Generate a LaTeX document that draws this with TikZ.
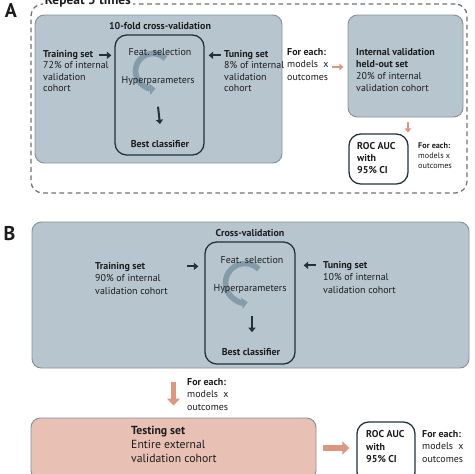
\documentclass[tikz,border=0pt]{standalone}
\usepackage{fontspec}
\setmainfont{PT Sans}
\usetikzlibrary{arrows.meta,fit}
\definecolor{boxgrey}{RGB}{183,198,206}
\definecolor{boxedge}{RGB}{135,145,150}
\definecolor{navy}{RGB}{33,50,62}
\definecolor{arcgrey}{RGB}{132,156,169}
\definecolor{salmon}{RGB}{223,150,128}
\definecolor{pinkfill}{RGB}{233,193,180}
\definecolor{dashgrey}{RGB}{110,115,120}
\definecolor{ink}{RGB}{28,28,30}
\begin{document}
\begin{tikzpicture}[x=0.03cm,y=-0.03cm,
  panel/.style={draw=boxedge,fill=boxgrey,rounded corners=8pt,line width=0.8pt,inner sep=0pt},
  inbox/.style={draw=navy,rounded corners=10pt,line width=1.1pt,inner sep=0pt},
  rocbox/.style={draw=navy,fill=white,rounded corners=10pt,line width=1.1pt,inner sep=0pt},
  txt/.style={anchor=north west,align=left,inner sep=0pt,text=ink,font=\fontsize{8.5}{9.7}\selectfont},
  txtb/.style={txt,font=\fontsize{8.5}{10.8}\selectfont},
  mid/.style={inner sep=0pt,text=ink,font=\fontsize{8.5}{9.7}\selectfont},
  darr/.style={draw=navy,line width=1.7pt,-{Triangle[length=3.8pt,width=6pt]}},
  parr/.style={draw=salmon,line width=1.8pt,-{Triangle[length=3.5pt,width=5.5pt]}},
  parrbig/.style={draw=salmon,line width=4pt,-{Triangle[length=6pt,width=11pt]}},
  cycle arrow/.style={draw=arcgrey,line width=4.8pt,-{Triangle[length=5pt,width=9.5pt]}},
  letter/.style={inner sep=0pt,text=ink,font=\fontsize{17}{17}\selectfont\bfseries}]
\useasboundingbox (0,0) rectangle (474,474);

\node[draw=dashgrey,dashed,dash pattern=on 4pt off 3pt,line width=1.1pt,rounded corners=10pt,inner sep=0pt,fit={(31,4) (467,193)}] (repA) {};
\node[anchor=base west,fill=white,inner sep=2pt,text=ink,font=\fontsize{11.5}{11.5}\selectfont\bfseries] (repT) at ([shift={(12,1)}]repA.north west) {Repeat 5 times};
\node[letter] (labA) at (11,10.5) {A};

\node[panel,fit={(35,15) (282,163)}] (cvA) {};
\node[inbox,fit={(115,35) (204,155)}] (inA) {};
\coordinate (cycA) at (153,71);
\path[cycle arrow] ([shift={(-45:17.5)}]cycA) arc[start angle=-45,end angle=-278,radius=17.5];
\node[mid,font=\fontsize{8.5}{9.7}\selectfont\bfseries] (cvtA) at (160,26) {10-fold cross-validation};
\node[mid] (fsA) at (160,52) {Feat. selection};
\node[mid] (hpA) at (158,81) {Hyperparameters};
\node[mid,font=\fontsize{8.5}{9.7}\selectfont\bfseries] (bcA) at (160,144) {Best classifier};
\path[darr] ([shift={(0,21)}]hpA.south) -- ([shift={(0,-16)}]bcA.north);
\node[txt] (trA) at (43,50) {\textbf{Training set}\\72\% of internal\\validation\\cohort};
\node[txt] (tuA) at (224,50) {\textbf{Tuning set}\\8\% of internal\\validation\\cohort};
\path[darr] ([shift={(-15,21)}]inA.north west) -- ([shift={(-3,21)}]inA.north west);
\path[darr] ([shift={(16,21)}]inA.north east) -- ([shift={(4,21)}]inA.north east);

\node[txt,font=\fontsize{8.5}{10.8}\selectfont] (feA) at (287,48) {\textbf{For each:}\\models\ \ x\\outcomes};
\node[panel,fit={(348,15) (463,117)}] (ivA) {};
\node[txt,font=\fontsize{8.5}{10.4}\selectfont] (ivtA) at (356,48) {\textbf{Internal validation}\\\textbf{held-out set}\\20\% of internal\\validation cohort};
\path[parr] ([shift={(-16,1)}]ivA.west) -- ([shift={(-4,1)}]ivA.west);
\node[rocbox,fit={(349,134) (408,184)}] (rocA) {};
\node[txt,font=\fontsize{8.5}{10.2}\selectfont\bfseries] (roctA) at (357,142) {ROC AUC\\with\\95\% CI};
\path[parr] ([shift={(2.5,5)}]ivA.south) -- ([shift={(2.5,15)}]ivA.south);
\node[txt,font=\fontsize{7}{8.5}\selectfont] (feA2) at (418,143) {\textbf{For each:}\\models x\\outcomes};

\node[letter] (labB) at (9.5,233.5) {B};
\node[panel,fit={(32,222) (469,368)}] (cvB) {};
\node[inbox,fit={(205,242) (295,364)}] (inB) {};
\coordinate (cycB) at (245,283);
\path[cycle arrow] ([shift={(-45:19.5)}]cycB) arc[start angle=-45,end angle=-278,radius=19.5];
\node[mid,font=\fontsize{8.5}{9.7}\selectfont\bfseries] (cvtB) at (250,233) {Cross-validation};
\node[mid] (fsB) at (252,260) {Feat. selection};
\node[mid] (hpB) at (250,289) {Hyperparameters};
\node[mid,font=\fontsize{8.5}{9.7}\selectfont\bfseries] (bcB) at (251,352) {Best classifier};
\path[darr] ([shift={(2,22)}]hpB.south) -- ([shift={(1,-16)}]bcB.north);
\node[txtb] (trB) at (95,262) {\textbf{Training set}\\90\% of internal\\validation cohort};
\node[txtb] (tuB) at (323,261) {\textbf{Tuning set}\\10\% of internal\\validation cohort};
\path[darr] ([shift={(-17,25)}]inB.north west) -- ([shift={(-6,25)}]inB.north west);
\path[darr] ([shift={(20,24)}]inB.north east) -- ([shift={(8,24)}]inB.north east);

\node[panel,draw=boxedge,fill=pinkfill,fit={(31,418) (316,480)}] (testB) {};
\path[parrbig,line width=3.5pt] ([shift={(0,-36)}]testB.north) -- ([shift={(0,-12)}]testB.north);
\node[txtb] (feB) at (187,378) {\textbf{For each:}\\models\ \ x\\outcomes};
\node[txt,font=\fontsize{10}{12}\selectfont] (testT) at (131,426) {\textbf{Testing set}\\Entire external\\validation cohort};
\node[rocbox,fit={(357,422) (415,484)}] (rocB) {};
\path[parrbig,line width=5pt] ([shift={(7,-1)}]testB.east) -- ([shift={(33,-1)}]testB.east);
\node[txtb,font=\fontsize{8.5}{10.8}\selectfont\bfseries] (roctB) at (366,430) {ROC AUC\\with\\95\% CI};
\node[txtb] (feB2) at (422,430) {\textbf{For each:}\\models\ \ x\\outcomes};
\end{tikzpicture}
\end{document}
